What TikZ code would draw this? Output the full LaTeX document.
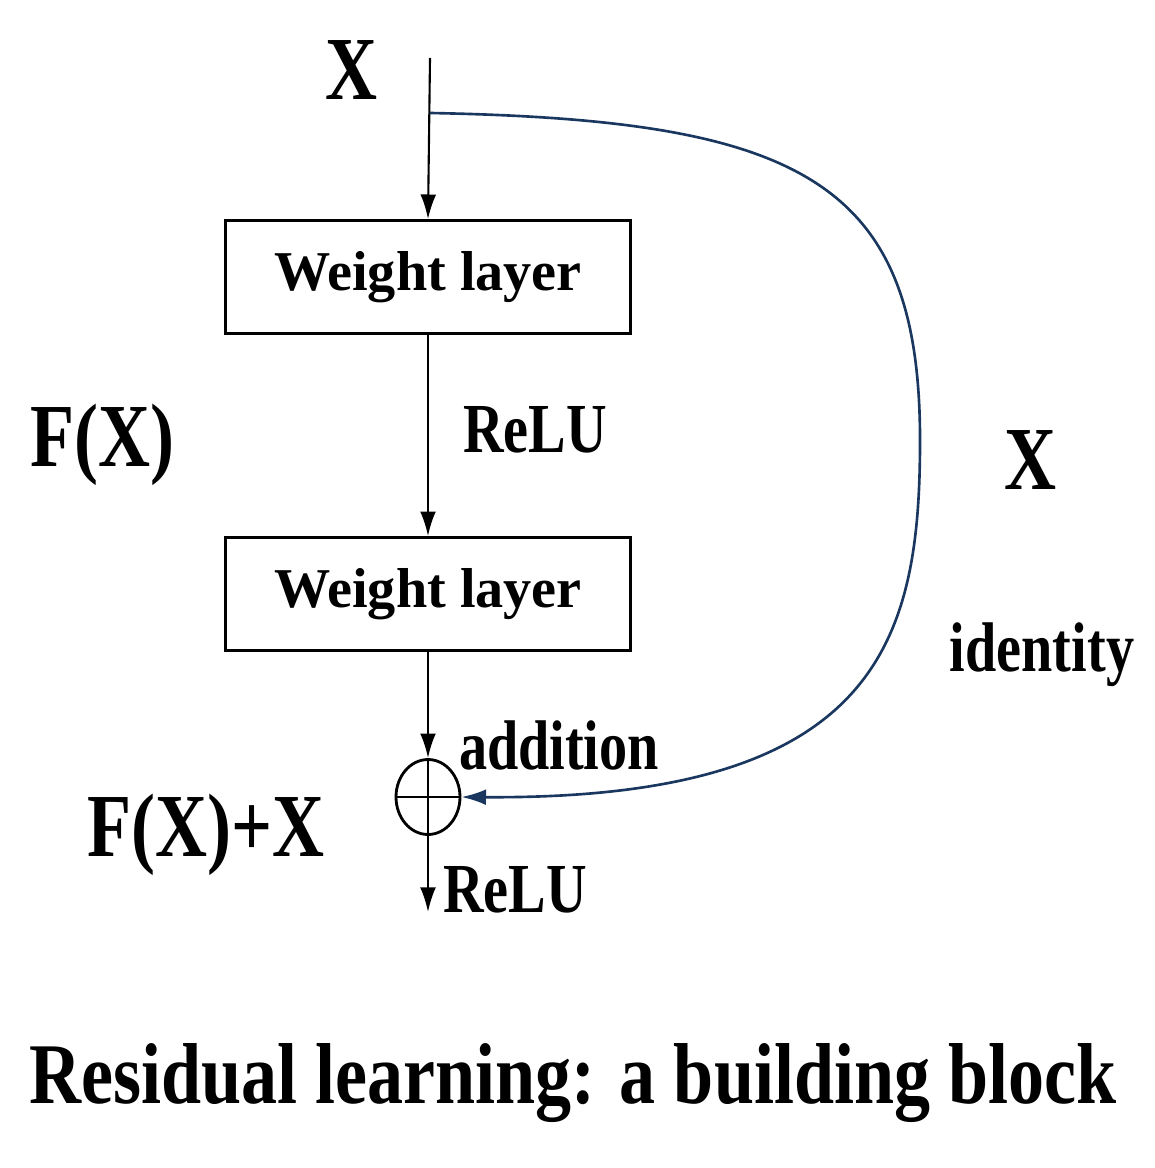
\documentclass[tikz,border=0pt]{standalone}
\usepackage{fontspec}
\setmainfont{Liberation Serif}
\usetikzlibrary{arrows.meta,shapes.geometric}
\begin{document}
\begin{tikzpicture}[x=0.02cm,y=-0.02cm,
  lbl/.style={font=\bfseries\fontsize{32}{36}\selectfont, inner sep=0, yscale=1.25, transform shape},
  big/.style={font=\bfseries\fontsize{41}{46}\selectfont, inner sep=0, yscale=1.25, transform shape},
  wbox/.style={draw, line width=1.6pt, minimum width=8.1cm, minimum height=2.26cm, font=\bfseries\fontsize{32}{36}\selectfont},
  arr/.style={line width=1.2pt, -{Latex[length=14pt,width=9pt]}}]
\useasboundingbox (0,0) rectangle (1154,1168);
\node[wbox] (b1) at (428,277) {Weight layer};
\node[wbox] (b2) at (428,594) {Weight layer};
\node[lbl] at (428,283) {\phantom{W}};
\node[draw, ellipse, line width=1.6pt, minimum width=1.28cm, minimum height=1.5cm, inner sep=0] (c) at (428,797) {};
\draw[line width=1.6pt] (c.north) -- (c.south) (c.west) -- (c.east);
\coordinate (top) at (430,58);
\coordinate (tap) at (430,113);
\coordinate (out) at (428,912);
\draw[arr] (top) -- (b1.north);
\draw[arr] (b1.south) -- (b2.north);
\draw[arr] (b2.south) -- (c.north);
\draw[arr] (c.south) -- (out);
\draw[line width=1.5pt, color={rgb,255:red,25;green,55;blue,95}, -{Latex[length=14pt,width=9pt]}]
  (tap) .. controls (800,120) and (920,180) .. (920,440)
  .. controls (920,640) and (880,800) .. (c.east);
\node[big] (x1) at (352,70) {X};
\node[lbl] (relu1) at (535,430) {ReLU};
\node[big] (fx) at (102,445) {F(X)};
\node[big] (x2) at (1030,460) {X};
\node[lbl] (id) at (1042,655) {identity};
\node[lbl] (add) at (559,745) {addition};
\node[big] (fxx) at (206,835) {F(X)+X};
\node[lbl] (relu2) at (515,890) {ReLU};
\node[font=\bfseries\fontsize{41}{46}\selectfont, inner sep=0, yscale=1.2, transform shape] (title) at (573,1083) {Residual learning: a building block};
\end{tikzpicture}
\end{document}
